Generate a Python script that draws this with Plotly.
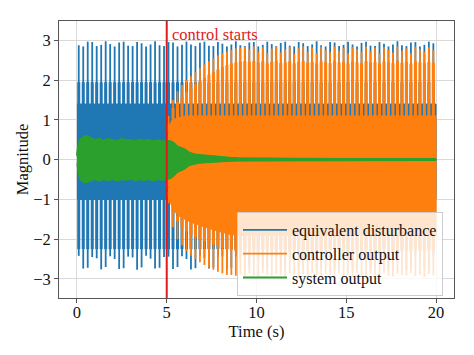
import numpy as np
import plotly.graph_objects as go

# ---------------- data ----------------
CONTROL_START = 5.0
SPIKE_PERIOD = 0.25

# equivalent disturbance (whole run 0..20 s)
dist_band_t = [0.0, 20.0]
dist_band_top = [1.4, 1.4]
dist_band_bottom = [-1.0, -1.0]
dist_body_up = 1.95
dist_body_down = -2.25
dist_spike_start = 0.1
dist_tip_up = [
    2.88, 2.85, 2.97, 2.96, 2.86, 2.89, 2.98, 2.91, 2.85, 2.95,
    2.97, 2.87, 2.86, 2.96, 2.93, 2.85, 2.90, 2.98, 2.88, 2.86,
    2.96, 2.95, 2.85, 2.89, 2.97, 2.90, 2.86, 2.94, 2.97, 2.87,
    2.86, 2.96, 2.92, 2.85, 2.90, 2.98, 2.88, 2.86, 2.95, 2.96,
    2.85, 2.89, 2.97, 2.91, 2.86, 2.94, 2.97, 2.87, 2.85, 2.96,
    2.93, 2.86, 2.90, 2.98, 2.88, 2.85, 2.96, 2.95, 2.86, 2.89,
    2.97, 2.90, 2.85, 2.94, 2.97, 2.87, 2.86, 2.96, 2.92, 2.85,
    2.90, 2.98, 2.88, 2.86, 2.95, 2.96, 2.85, 2.89, 2.97, 2.93]
dist_tip_down = [
    -2.42, -2.74, -2.72, -2.45, -2.48, -2.76, -2.70, -2.43, -2.50, -2.75,
    -2.73, -2.44, -2.46, -2.77, -2.71, -2.42, -2.49, -2.74, -2.72, -2.45,
    -2.44, -2.75, -2.70, -2.43, -2.50, -2.76, -2.73, -2.42, -2.47, -2.74,
    -2.71, -2.45, -2.43, -2.76, -2.72, -2.44, -2.49, -2.75, -2.70, -2.42,
    -2.46, -2.74, -2.73, -2.45, -2.43, -2.77, -2.71, -2.44, -2.50, -2.75,
    -2.72, -2.42, -2.47, -2.76, -2.70, -2.45, -2.44, -2.74, -2.73, -2.43,
    -2.49, -2.75, -2.71, -2.42, -2.46, -2.76, -2.72, -2.44, -2.43, -2.74,
    -2.70, -2.45, -2.50, -2.77, -2.73, -2.42, -2.47, -2.75, -2.71, -2.44]

# controller output (starts at the control start)
ctrl_band_t = [5.0, 5.05, 5.15, 5.3, 5.6, 6.0, 6.5, 7.0, 7.5, 8.0, 8.5, 9.0, 20.0]
ctrl_band_top = [0.0, 0.5, 0.85, 1.0, 1.05, 1.1, 1.1, 1.1, 1.1, 1.1, 1.1, 1.1, 1.1]
ctrl_band_bottom = [0.0, -0.6, -1.0, -1.2, -1.4, -1.5, -1.6, -1.68, -1.75, -1.82, -1.88, -1.9, -1.9]
ctrl_spike_start = 5.1
ctrl_body_up = [
    0.90, 1.30, 1.45, 1.58, 1.70, 1.80, 1.90, 1.98, 2.06, 2.14,
    2.20, 2.27, 2.33, 2.38, 2.42, 2.45, 2.47, 2.48, 2.46, 2.48,
    2.44, 2.47, 2.42, 2.46, 2.48, 2.43, 2.45, 2.47, 2.42, 2.46,
    2.48, 2.44, 2.46, 2.42, 2.47, 2.45, 2.43, 2.48, 2.44, 2.46,
    2.42, 2.47, 2.45, 2.43, 2.48, 2.44, 2.46, 2.42, 2.47, 2.45,
    2.43, 2.48, 2.44, 2.46, 2.42, 2.47, 2.45, 2.43, 2.46, 2.44]
ctrl_tip_up = [
    1.10, 1.50, 1.72, 1.88, 2.00, 2.10, 2.20, 2.30, 2.40, 2.48,
    2.55, 2.62, 2.68, 2.72, 2.76, 2.80, 2.82, 2.84, 2.78, 2.85,
    2.72, 2.83, 2.68, 2.80, 2.85, 2.70, 2.78, 2.84, 2.66, 2.80,
    2.85, 2.72, 2.82, 2.68, 2.84, 2.76, 2.70, 2.85, 2.74, 2.81,
    2.67, 2.84, 2.78, 2.71, 2.85, 2.73, 2.82, 2.68, 2.83, 2.77,
    2.70, 2.85, 2.74, 2.80, 2.67, 2.84, 2.78, 2.72, 2.83, 2.76]
ctrl_body_down = [
    -0.90, -1.35, -1.55, -1.70, -1.80, -1.88, -1.95, -2.00, -2.05, -2.10,
    -2.14, -2.18, -2.22, -2.25, -2.27, -2.30, -2.30, -2.32, -2.29, -2.31,
    -2.33, -2.28, -2.31, -2.30, -2.34, -2.29, -2.31, -2.32, -2.28, -2.30,
    -2.33, -2.29, -2.31, -2.30, -2.34, -2.28, -2.31, -2.32, -2.29, -2.30,
    -2.33, -2.28, -2.31, -2.30, -2.34, -2.29, -2.31, -2.32, -2.28, -2.30,
    -2.33, -2.29, -2.31, -2.30, -2.34, -2.28, -2.31, -2.32, -2.29, -2.30]
ctrl_tip_down = [
    -1.10, -1.70, -2.00, -2.15, -2.30, -2.42, -2.50, -2.58, -2.65, -2.72,
    -2.77, -2.82, -2.86, -2.90, -2.90, -2.92, -2.88, -2.94, -2.86, -2.92,
    -2.95, -2.85, -2.90, -2.93, -2.87, -2.91, -2.95, -2.86, -2.89, -2.93,
    -2.88, -2.94, -2.85, -2.91, -2.95, -2.87, -2.90, -2.92, -2.86, -2.94,
    -2.89, -2.93, -2.85, -2.91, -2.95, -2.88, -2.90, -2.93, -2.86, -2.92,
    -2.94, -2.87, -2.90, -2.92, -2.85, -2.93, -2.89, -2.95, -2.88, -2.91]

# system output (band envelope)
sys_t = [0.0, 0.05, 0.15, 0.3, 0.5, 0.75, 1.0, 1.25, 1.5, 1.75, 2.0, 2.25, 2.5,
         2.75, 3.0, 3.25, 3.5, 3.75, 4.0, 4.25, 4.5, 4.75, 5.0, 5.2, 5.4, 5.6,
         5.8, 6.0, 6.25, 6.5, 6.8, 7.2, 7.6, 8.0, 8.5, 9.0, 10.0, 12.0, 15.0, 20.0]
sys_upper = [0.1, 0.3, 0.48, 0.56, 0.6, 0.55, 0.5, 0.53, 0.48, 0.52, 0.5, 0.47, 0.52,
             0.49, 0.5, 0.46, 0.51, 0.48, 0.5, 0.47, 0.49, 0.46, 0.48, 0.47, 0.42, 0.33,
             0.3, 0.26, 0.18, 0.14, 0.12, 0.1, 0.08, 0.06, 0.05, 0.04, 0.03, 0.025, 0.02, 0.02]
sys_lower = [-0.1, -0.3, -0.48, -0.56, -0.58, -0.55, -0.5, -0.55, -0.5, -0.53, -0.5, -0.55, -0.5,
             -0.52, -0.49, -0.54, -0.5, -0.53, -0.5, -0.54, -0.5, -0.52, -0.5, -0.48, -0.42, -0.32,
             -0.28, -0.24, -0.15, -0.12, -0.09, -0.08, -0.06, -0.05, -0.04, -0.035, -0.03, -0.025,
             -0.02, -0.02]

x_ticks = [0, 5, 10, 15, 20]
y_ticks = [-3, -2, -1, 0, 1, 2, 3]
series_names = ["equivalent disturbance", "controller output", "system output"]
annotation_text = "control starts"

# ---------------- styling ----------------
BLUE, ORANGE, GREEN, RED = "#1f77b4", "#ff7f0e", "#2ca02c", "#e31a1c"
FONT = "'Liberation Serif', 'Times New Roman', serif"
FS = 16.5


def spike_xy(t, base, tip):
    xs, ys = [], []
    base = np.broadcast_to(np.asarray(base, dtype=float), len(t))
    for ti, b, p in zip(t, base, tip):
        xs += [ti, ti, None]
        ys += [b, p, None]
    return xs, ys


def band_xy(t, top, bottom):
    return list(t) + list(t)[::-1], list(top) + list(bottom)[::-1]


fig = go.Figure()


def add_series(name, color, band, spikes_t, bodies, tips, legend):
    bx, by = band_xy(*band)
    fig.add_trace(go.Scatter(x=bx, y=by, mode="lines", fill="toself", fillcolor=color,
                             line=dict(color=color, width=1), hoverinfo="skip",
                             showlegend=False, legendgroup=name))
    for base, body in bodies:
        x, y = spike_xy(spikes_t, base, body)
        fig.add_trace(go.Scatter(x=x, y=y, mode="lines", line=dict(color=color, width=3),
                                 hoverinfo="skip", showlegend=False, legendgroup=name))
    first = True
    for base, tip in tips:
        x, y = spike_xy(spikes_t, base, tip)
        fig.add_trace(go.Scatter(x=x, y=y, mode="lines", line=dict(color=color, width=1.8),
                                 name=name, hoverinfo="skip", showlegend=first and legend,
                                 legendgroup=name))
        first = False


dist_t = dist_spike_start + SPIKE_PERIOD * np.arange(len(dist_tip_up))
add_series(series_names[0], BLUE, (dist_band_t, dist_band_top, dist_band_bottom), dist_t,
           [(dist_band_top[0], [dist_body_up] * len(dist_t)),
            (dist_band_bottom[0], [dist_body_down] * len(dist_t))],
           [(dist_band_top[0], dist_tip_up), (dist_band_bottom[0], dist_tip_down)], True)

ctrl_t = ctrl_spike_start + SPIKE_PERIOD * np.arange(len(ctrl_tip_up))
ctrl_top_at = np.interp(ctrl_t, ctrl_band_t, ctrl_band_top)
ctrl_bot_at = np.interp(ctrl_t, ctrl_band_t, ctrl_band_bottom)
add_series(series_names[1], ORANGE, (ctrl_band_t, ctrl_band_top, ctrl_band_bottom), ctrl_t,
           [(ctrl_top_at, ctrl_body_up), (ctrl_bot_at, ctrl_body_down)],
           [(ctrl_top_at, ctrl_tip_up), (ctrl_bot_at, ctrl_tip_down)], True)

sx, sy = band_xy(sys_t, sys_upper, sys_lower)
fig.add_trace(go.Scatter(x=sx, y=sy, mode="lines", fill="toself", fillcolor=GREEN,
                         line=dict(color=GREEN, width=1), hoverinfo="skip",
                         showlegend=False, legendgroup=series_names[2]))
fig.add_trace(go.Scatter(x=sys_t, y=sys_upper, mode="lines", line=dict(color=GREEN, width=1.8),
                         name=series_names[2], hoverinfo="skip", legendgroup=series_names[2]))

fig.add_shape(type="line", xref="x", yref="paper", x0=CONTROL_START, x1=CONTROL_START,
              y0=0, y1=1, line=dict(color=RED, width=2), layer="above")
fig.add_annotation(x=CONTROL_START, xref="x", xanchor="left", xshift=3,
                   y=0.953, yref="paper", yanchor="middle", text=annotation_text,
                   showarrow=False, font=dict(family=FONT, size=FS, color=RED))

axis_common = dict(showgrid=True, gridcolor="#d9d9d9", gridwidth=1, zeroline=False,
                   showline=True, mirror=True, linecolor="#555555", linewidth=1,
                   ticks="outside", ticklen=4, tickcolor="#555555", automargin=False,
                   tickfont=dict(family=FONT, size=FS, color="#111111"))

fig.update_layout(
    width=474, height=355, autosize=False,
    margin=dict(l=59, r=20, t=21, b=57),
    paper_bgcolor="white", plot_bgcolor="white",
    font=dict(family=FONT, size=FS, color="#111111"),
    xaxis=dict(range=[-1, 21], tickvals=x_ticks, ticklabelstandoff=-5,
               title=dict(text="Time (s)", standoff=0, font=dict(family=FONT, size=FS)),
               **axis_common),
    yaxis=dict(range=[-3.48, 3.49], tickvals=y_ticks,
               title=dict(text="Magnitude", standoff=0, font=dict(family=FONT, size=FS)),
               **axis_common),
    legend=dict(x=0.4506, y=0.3105, xanchor="left", yanchor="top",
                bgcolor="rgba(255,255,255,0.8)", bordercolor="#cccccc", borderwidth=1,
                font=dict(family=FONT, size=16, color="#111111"),
                traceorder="grouped", tracegroupgap=0, itemwidth=44),
    showlegend=True,
)

fig.write_html("out.html", config={"displayModeBar": False},
               post_script="document.body.style.margin='0';document.body.style.overflow='hidden';")
